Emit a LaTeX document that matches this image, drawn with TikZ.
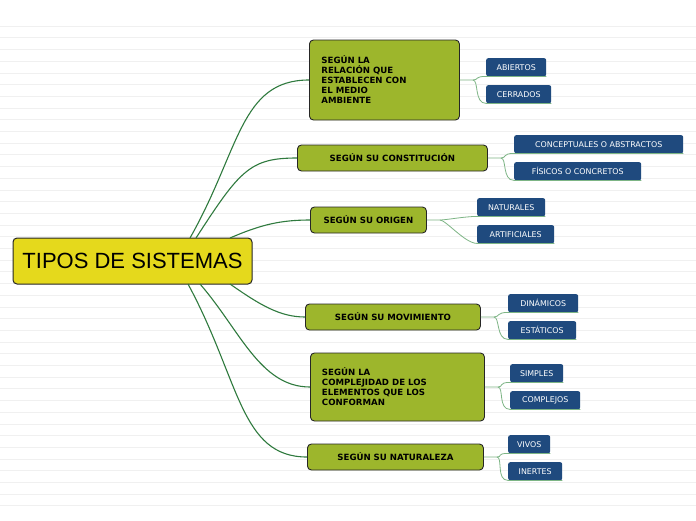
\documentclass[tikz,border=0pt]{standalone}
\usepackage{fontspec}
\setmainfont{DejaVu Sans}
\newfontfamily\rootfont{Liberation Sans}
\begin{document}
\begin{tikzpicture}[x=1pt,y=-1pt,
  bg/.style={draw=black!6,line width=0.6pt},
  rootbox/.style={draw=black!85,line width=1pt,fill=yellowroot,rounded corners=4pt,minimum width=239pt,minimum height=46pt,font=\rootfont\fontsize{22}{24}\selectfont},
  cat/.style={draw=black!85,line width=0.9pt,fill=greencat,rounded corners=4pt,font=\bfseries\fontsize{8.6}{10}\selectfont,inner sep=0pt,anchor=west,align=left},
  leaf/.style={fill=blueleaf,text=white,rounded corners=2pt,font=\fontsize{7.9}{9}\selectfont,inner sep=0pt,minimum height=18pt,anchor=north west},
  mainlink/.style={draw=linkdark,line width=1.1pt},
  leaflink/.style={draw=linklight,line width=0.8pt}]
\definecolor{yellowroot}{HTML}{E5D91C}
\definecolor{greencat}{HTML}{9DB62C}
\definecolor{blueleaf}{HTML}{1F4A7E}
\definecolor{linkdark}{HTML}{2F7A3E}
\definecolor{linklight}{HTML}{7DB585}
\useasboundingbox (0,0) rectangle (696,520);
\fill[white] (0,0) rectangle (696,520);
\foreach \yy in {26,37.7,...,510} \draw[bg] (0,\yy) -- (696,\yy);
% root
\node[rootbox] (root) at (132.5,261) {TIPOS DE SISTEMAS};
% categories
\node[cat,minimum width=150pt,minimum height=80pt] (c1) at (309,80) {\hspace{9pt}\parbox{135pt}{SEGÚN LA\\RELACIÓN QUE\\ESTABLECEN CON\\EL MEDIO\\AMBIENTE}};
\node[cat,minimum width=190pt,minimum height=26pt,align=center] (c2) at (297,158) {SEGÚN SU CONSTITUCIÓN};
\node[cat,minimum width=116pt,minimum height=26pt,align=center] (c3) at (310,220) {SEGÚN SU ORIGEN};
\node[cat,minimum width=175pt,minimum height=26pt,align=center] (c4) at (305,317) {SEGÚN SU MOVIMIENTO};
\node[cat,minimum width=174pt,minimum height=68pt] (c5) at (310,387) {\hspace{9pt}\parbox{160pt}{SEGÚN LA\\COMPLEJIDAD DE LOS\\ELEMENTOS QUE LOS\\CONFORMAN}};
\node[cat,minimum width=176pt,minimum height=26pt,align=center] (c6) at (307,457) {SEGÚN SU NATURALEZA};
% main links
\draw[mainlink] (190,238) .. controls (240,150) and (240,80) .. (c1.west);
\draw[mainlink] (196,238) .. controls (240,170) and (250,158) .. (c2.west);
\draw[mainlink] (230,238) .. controls (260,225) and (280,220) .. (c3.west);
\draw[mainlink] (230,284) .. controls (260,305) and (280,317) .. (c4.west);
\draw[mainlink] (200,284) .. controls (240,330) and (260,387) .. (c5.west);
\draw[mainlink] (188,284) .. controls (240,380) and (240,457) .. (c6.west);
% leaves
\node[leaf,minimum width=60pt] (l1a) at (486,58) {ABIERTOS};
\node[leaf,minimum width=65pt] (l1b) at (486,85) {CERRADOS};
\node[leaf,minimum width=169pt] (l2a) at (514,135) {CONCEPTUALES O ABSTRACTOS};
\node[leaf,minimum width=127pt] (l2b) at (514,162) {FÍSICOS O CONCRETOS};
\node[leaf,minimum width=68pt] (l3a) at (477,198) {NATURALES};
\node[leaf,minimum width=77pt] (l3b) at (477,225) {ARTIFICIALES};
\node[leaf,minimum width=70pt] (l4a) at (508,294) {DINÁMICOS};
\node[leaf,minimum width=68pt] (l4b) at (508,321) {ESTÁTICOS};
\node[leaf,minimum width=53pt] (l5a) at (510,364) {SIMPLES};
\node[leaf,minimum width=70pt] (l5b) at (510,391) {COMPLEJOS};
\node[leaf,minimum width=42pt] (l6a) at (508,435) {VIVOS};
\node[leaf,minimum width=54pt] (l6b) at (508,462) {INERTES};
% leaf links
\foreach \c/\a/\b in {c1/l1a/l1b,c2/l2a/l2b,c3/l3a/l3b,c4/l4a/l4b,c5/l5a/l5b,c6/l6a/l6b}{
  \draw[leaflink] (\c.east) -- ++(13,0) coordinate (m)
     .. controls ([xshift=6pt]m) and ([xshift=-12pt]\a.south west) .. (\a.south west) -- (\a.south east);
  \draw[leaflink] (m) .. controls ([xshift=6pt]m) and ([xshift=-12pt]\b.south west) .. (\b.south west) -- (\b.south east);
}
\end{tikzpicture}
\end{document}
